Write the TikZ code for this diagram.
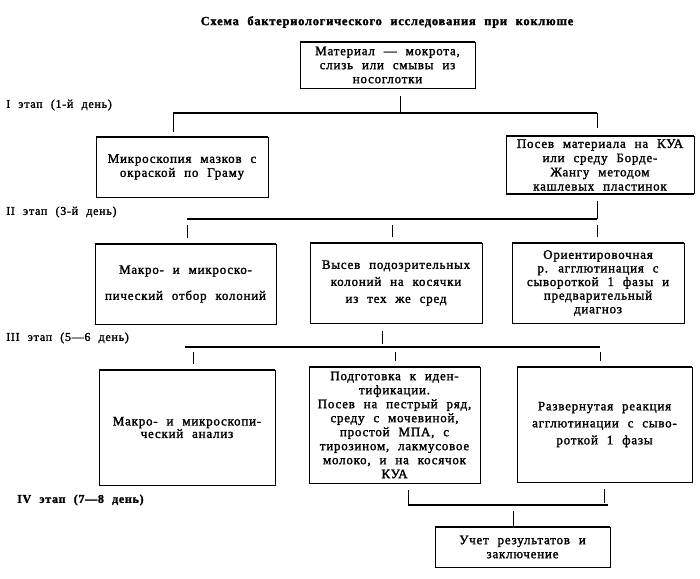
\documentclass[tikz,border=0pt]{standalone}
\usepackage{fontspec}
\setmainfont{Liberation Serif}[LetterSpace=6,WordSpace={2.2,1,1},FakeBold=1.6]
\begin{document}
\begin{tikzpicture}[x=1pt,y=-1pt,
  box/.style={draw, line width=0.7pt, inner sep=0pt, align=center, font=\fontsize{13}{14}\selectfont},
  edge/.style={line width=1.5pt},
  ttl/.style={font=\bfseries\fontsize{12.5}{14}\selectfont, inner sep=0pt},
  stage/.style={anchor=west, inner sep=0pt, font=\fontsize{12}{14}\selectfont},
  bus/.style={line width=1.3pt},
  conn/.style={line width=0.7pt}]
\useasboundingbox[fill=white] (0,0) rectangle (700,578);
\node[ttl] (T) at (387,22) {Схема бактериологического исследования при коклюше};
% boxes
\node[box, minimum width=175pt, minimum height=46pt] (A) at (387.5,65) {Материал — мокрота,\\слизь или смывы из\\носоглотки};
\node[box, minimum width=172pt, minimum height=60pt] (B) at (182,167) {Микроскопия мазков с\\окраской по Граму};
\node[box, minimum width=188pt, minimum height=57pt, font=\fontsize{13}{14.2}\selectfont] (C) at (600,165) {Посев материала на КУА\\или среду Борде-\\Жангу методом\\кашлевых пластинок};
\node[box, minimum width=181pt, minimum height=80pt, font=\fontsize{13}{26}\selectfont] (D) at (185.5,284) {Макро- и микроско-\\пический отбор колоний};
\node[box, minimum width=172pt, minimum height=80pt, font=\fontsize{13}{17}\selectfont] (E) at (396,283) {Высев подозрительных\\колоний на косячки\\из тех же сред};
\node[box, minimum width=172pt, minimum height=80pt, font=\fontsize{13}{13.6}\selectfont] (F) at (598,283) {Ориентировочная\\р. агглютинация с\\сывороткой 1 фазы и\\предварительный\\диагноз};
\node[box, minimum width=176pt, minimum height=115pt, font=\fontsize{13}{12.5}\selectfont] (G) at (187,427.5) {Макро- и микроскопи-\\ческий анализ};
\node[box, minimum width=171pt, minimum height=116pt, font=\fontsize{13}{14}\selectfont] (H) at (394.5,425) {Подготовка к иден-\\тификации.\\Посев на пестрый ряд,\\среду с мочевиной,\\простой МПА, с\\тирозином, лакмусовое\\молоко, и на косячок\\КУА};
\node[box, minimum width=175pt, minimum height=115pt, font=\fontsize{13}{17}\selectfont] (I) at (604.5,424.5) {Развернутая реакция\\агглютинации с сыво-\\роткой 1 фазы};
\node[box, minimum width=175pt, minimum height=40pt] (J) at (522.5,547) {Учет результатов и\\заключение};
% heavier top and bottom edges
\foreach \n in {A,B,C,D,E,F,G,H,I,J}
  \draw[edge] (\n.north west) -- (\n.north east) (\n.south west) -- (\n.south east);
% stage labels
\node[stage] (S1) at (6,105) {I этап (1-й день)};
\node[stage] (S2) at (6,212) {II этап (3-й день)};
\node[stage] (S3) at (6,338) {III этап (5—6 день)};
\node[stage, font=\bfseries\fontsize{12}{14}\selectfont] (S4) at (17,500) {IV этап (7—8 день)};
% stage I
\coordinate (b1l) at (173,113); \coordinate (b1m) at (400,113); \coordinate (b1r) at (597,113);
\draw[bus] (b1l) -- (b1r);
\draw[conn, shorten <=8pt] (A.south -| b1m) -- (b1m);
\draw[conn, shorten >=5pt] (b1l) -- (b1l |- B.north);
\draw[conn, shorten >=8pt] (b1r) -- (b1r |- C.north);
% stage II
\coordinate (b2l) at (187,219); \coordinate (b2m) at (392,219); \coordinate (b2r) at (597,219);
\draw[bus] (b2l) -- (b2r);
\draw[conn, shorten <=7pt] (C.south -| b2r) -- (b2r);
\draw[conn, shorten <=6pt, shorten >=6pt] (b2l) -- (b2l |- D.north);
\draw[conn, shorten <=6pt, shorten >=6pt] (b2m) -- (b2m |- E.north);
\draw[conn, shorten <=6pt, shorten >=6pt] (b2r) -- (b2r |- F.north);
% stage III
\coordinate (b3l) at (185,347); \coordinate (b3m) at (382,347); \coordinate (b3r) at (600,347);
\coordinate (s3a) at (193,347); \coordinate (s3b) at (395,347);
\draw[bus] (b3l) -- (b3r);
\draw[conn, shorten <=8pt, shorten >=3pt] (E.south -| b3m) -- (b3m);
\draw[conn, shorten <=5pt, shorten >=6pt] (s3a) -- (s3a |- G.north);
\draw[conn, shorten <=5pt, shorten >=6pt] (s3b) -- (s3b |- H.north);
\draw[conn, shorten <=5pt, shorten >=6pt] (b3r) -- (b3r |- I.north);
% stage IV
\coordinate (b4l) at (408,505); \coordinate (b4m) at (513,505); \coordinate (b4r) at (608,505);
\coordinate (s4b) at (604,505);
\draw[bus] (b4l) -- (b4r);
\draw[conn, shorten <=7pt] (H.south -| b4l) -- (b4l);
\draw[conn, shorten <=7pt, shorten >=2pt] (I.south -| s4b) -- (s4b);
\draw[conn, shorten <=6pt, shorten >=1pt] (b4m) -- (b4m |- J.north);
\end{tikzpicture}
\end{document}
